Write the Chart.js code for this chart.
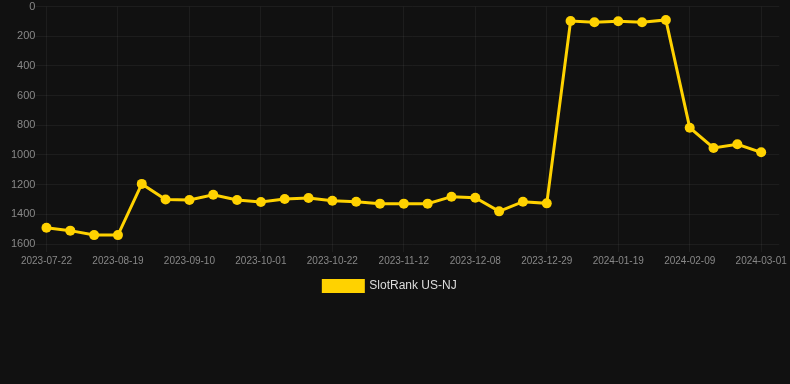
<!DOCTYPE html>
<html>
<head>
<meta charset="utf-8">
<script src="https://cdn.jsdelivr.net/npm/chart.js@4"></script>
<style>
    html, body { margin: 0; padding: 0; background: #111111; }
    #wrap { width: 790px; height: 384px; }
</style>
</head>
<body>
<div id="wrap"><canvas id="line-chart"></canvas></div>
<script>
const dates = [
    "2023-07-22", "2023-07-31", "2023-08-09", "2023-08-19", "2023-08-26",
    "2023-09-03", "2023-09-10", "2023-09-17", "2023-09-24", "2023-10-01",
    "2023-10-08", "2023-10-15", "2023-10-22", "2023-10-29", "2023-11-05",
    "2023-11-12", "2023-11-20", "2023-11-29", "2023-12-08", "2023-12-15",
    "2023-12-22", "2023-12-29", "2024-01-05", "2024-01-12", "2024-01-19",
    "2024-01-26", "2024-02-02", "2024-02-09", "2024-02-16", "2024-02-23",
    "2024-03-01",
];
const ranks = [
    1490, 1510, 1540, 1540, 1195, 1300, 1304, 1268, 1304, 1317,
    1297, 1290, 1308, 1315, 1328, 1328, 1328, 1281, 1288, 1380,
    1315, 1326, 97, 106, 99, 106, 90, 816, 953, 928,
    982,
];
const yTicks = [0, 200, 400, 600, 800, 1000, 1200, 1400, 1600];

(function () {
    new Chart(document.getElementById("line-chart"), {
        type: "line",
        data: {
            datasets: [
                {
                    label: "SlotRank US-NJ",
                    data: ranks.map((v, i) => ({ x: i, y: v })),
                    borderColor: "#FFD200",
                    backgroundColor: "#FFD200",
                    borderWidth: 3,
                    pointRadius: 5,
                    pointBorderWidth: 0,
                    tension: 0,
                    clip: false,
                },
            ],
        },
        options: {
            responsive: true,
            maintainAspectRatio: false,
            animation: false,
            layout: {
                padding: { left: 0, right: 10, top: 0, bottom: 82 },
            },
            scales: {
                x: {
                    type: "linear",
                    min: 0,
                    max: 30.76,
                    grid: { color: "rgba(255,255,255,0.05)" },
                    border: { display: false },
                    ticks: {
                        stepSize: 3,
                        includeBounds: false,
                        maxRotation: 0,
                        color: "#888888",
                        font: { size: 10, family: "Liberation Sans, Arial, sans-serif" },
                        callback: (v) => dates[v] ?? "",
                    },
                },
                y: {
                    reverse: true,
                    min: yTicks[0],
                    max: yTicks[yTicks.length - 1],
                    grid: { color: "rgba(255,255,255,0.05)", tickLength: 11 },
                    border: { display: false },
                    afterBuildTicks: (axis) => {
                        axis.ticks = yTicks.map((v) => ({ value: v }));
                    },
                    afterFit: (axis) => {
                        axis.width += 11;
                    },
                    ticks: {
                        padding: 0,
                        color: "#888888",
                        font: { size: 11, family: "Liberation Sans, Arial, sans-serif" },
                        callback: (v) => String(v),
                    },
                },
            },
            plugins: {
                legend: {
                    position: "bottom",
                    labels: {
                        color: "#dddddd",
                        boxWidth: 40,
                        boxHeight: 11,
                        font: { size: 12, family: "Liberation Sans, Arial, sans-serif" },
                    },
                },
                tooltip: { enabled: false },
            },
        },
    });
})();
</script>
</body>
</html>
